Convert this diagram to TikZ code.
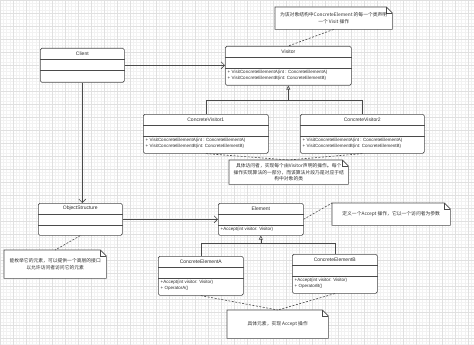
\documentclass[tikz,border=0pt]{standalone}
\usepackage{fontspec}
\setmainfont{Liberation Sans}
\newfontfamily\cjk{Noto Sans CJK SC}
\usetikzlibrary{arrows.meta,positioning}

\definecolor{linecol}{HTML}{4A4A4A}
\definecolor{textcol}{HTML}{2E2E2E}

\tikzset{
  cls/.style={draw=linecol, fill=white, line width=0.6pt, rounded corners=1.5pt, anchor=north west, inner sep=0pt},
  clstitle/.style={font=\fontsize{5}{6}\selectfont, text=textcol},
  clsops/.style={font=\fontsize{4.5}{6}\selectfont, text=textcol, align=left, anchor=north west, inner sep=0pt},
  notebg/.style={anchor=north west, inner sep=0pt},
  notetext/.style={font=\cjk\fontsize{4.8}{6.3}\selectfont, text=textcol, align=center, inner sep=0pt},
  sepline/.style={draw=linecol, line width=0.6pt},
  assoc/.style={draw=linecol, line width=0.6pt, -{Straight Barb[length=3.5pt,width=7pt]}},
  inherit/.style={draw=linecol, line width=0.6pt, -{Triangle[open,length=4pt,width=4pt]}},
  noteline/.style={draw=linecol, line width=0.6pt, dash pattern=on 2pt off 1.5pt},
}

\newcommand{\classbox}[6]{% name, north west corner, width, height, title, operations
  \node[cls, minimum width=#3, minimum height=#4] (#1) at #2 {};
  \node[clstitle] at ([yshift=-5.5]#1.north) {#5};
  \draw[sepline] ([yshift=-11]#1.north west) -- ([yshift=-11]#1.north east);
  \draw[sepline] ([yshift=-22]#1.north west) -- ([yshift=-22]#1.north east);
  \node[clsops] at ([xshift=2.5,yshift=-24.5]#1.north west) {#6};
}

\newcommand{\notebox}[5]{% name, north west corner, width, height, text
  \node[notebg, minimum width=#3, minimum height=#4] (#1) at #2 {};
  \draw[sepline, fill=white] (#1.north west) -- ([xshift=-6]#1.north east) -- ([yshift=-6]#1.north east)
    -- (#1.south east) -- (#1.south west) -- cycle;
  \draw[sepline] ([xshift=-6]#1.north east) -- ([xshift=-6,yshift=-6]#1.north east) -- ([yshift=-6]#1.north east);
  \node[notetext] at (#1.center) {#5};
}

\begin{document}
\begin{tikzpicture}[x=1pt, y=-1pt]
  \useasboundingbox (0,0) rectangle (474,345);
  \fill[white] (0,0) rectangle (474,345);
  \draw[black!5, line width=0.3pt] (0,0) grid[step=3.25pt] (474,345);
  \draw[black!12, line width=0.4pt] (0,0) grid[step=13pt] (474,345);

  \classbox{client}{(40,48)}{84}{34}{Client}{}
  \classbox{visitor}{(225,46)}{126}{39}{Visitor}{+ VisitConcreteElementA(int : ConcreteElementA)\\+ VisitConcreteElementB(int: ConcreteElementB)}
  \classbox{cv1}{(143,114)}{125}{39}{ConcreteVisitor1}{+ VisitConcreteElementA(int : ConcreteElementA)\\+ VisitConcreteElementB(int: ConcreteElementB)}
  \classbox{cv2}{(300,114)}{124}{39}{ConcreteVisitor2}{+ VisitConcreteElementA(int : ConcreteElementA)\\+ VisitConcreteElementB(int: ConcreteElementB)}
  \classbox{objstruct}{(38,203)}{84}{32}{ObjectStructure}{}
  \classbox{element}{(218,203)}{85}{32}{Element}{+Accept(int visitor: Visitor)}
  \classbox{cea}{(158,256)}{85}{39}{ConcreteElementA}{+Accept(int visitor: Visitor)\\+ OperatorA()}
  \classbox{ceb}{(292,254)}{85}{39}{ConcreteElementB}{+Accept(int visitor: Visitor)\\+ OperatorB()}

  \notebox{visitornote}{(275,7)}{117}{22}{为该对象结构中ConcreteElement 的每一个类声明\\一个 Visit 操作}
  \notebox{cvnote}{(229,160)}{119}{24}{具体访问者，实现每个由Visitor声明的操作。每个\\操作实现算法的一部分，而该算法片段乃是对应于结\\构中对象的类}
  \notebox{osnote}{(4,250)}{102}{28}{能枚举它的元素，可以提供一个高层的接口\\以允许访问者访问它的元素}
  \notebox{elementnote}{(332,203)}{118}{22}{定义一个Accept 操作，它以一个访问者为参数}
  \notebox{cenote}{(227,310)}{101}{28}{具体元素，实现 Accept 操作}

  \draw[assoc] (client.east) -- (client.east -| visitor.west);
  \draw[assoc] (client.south) -- (client.south |- objstruct.north);
  \draw[assoc] (objstruct.east) -- (objstruct.east -| element.west);

  \coordinate (vjoin) at ([yshift=-15]visitor.south);
  \draw[sepline] (cv1.north) |- (vjoin) -| (cv2.north);
  \draw[inherit] (vjoin) -- (visitor.south);
  \coordinate (ejoin) at ([yshift=-8]element.south);
  \draw[sepline] (cea.north) |- (ejoin) -| (ceb.north);
  \draw[inherit] (ejoin) -- (element.south);

  \draw[noteline] (visitornote.south) -- (visitor.north);
  \draw[noteline] (cv1.south) -- (cvnote.north);
  \draw[noteline] (cv2.south) -- (cvnote.north);
  \draw[noteline] (objstruct.south) -- (osnote.north);
  \draw[noteline] (element.east) -- (elementnote.north west);
  \draw[noteline] (cea.south) -- (cenote.north);
  \draw[noteline] (ceb.south) -- (cenote.north);
\end{tikzpicture}
\end{document}
